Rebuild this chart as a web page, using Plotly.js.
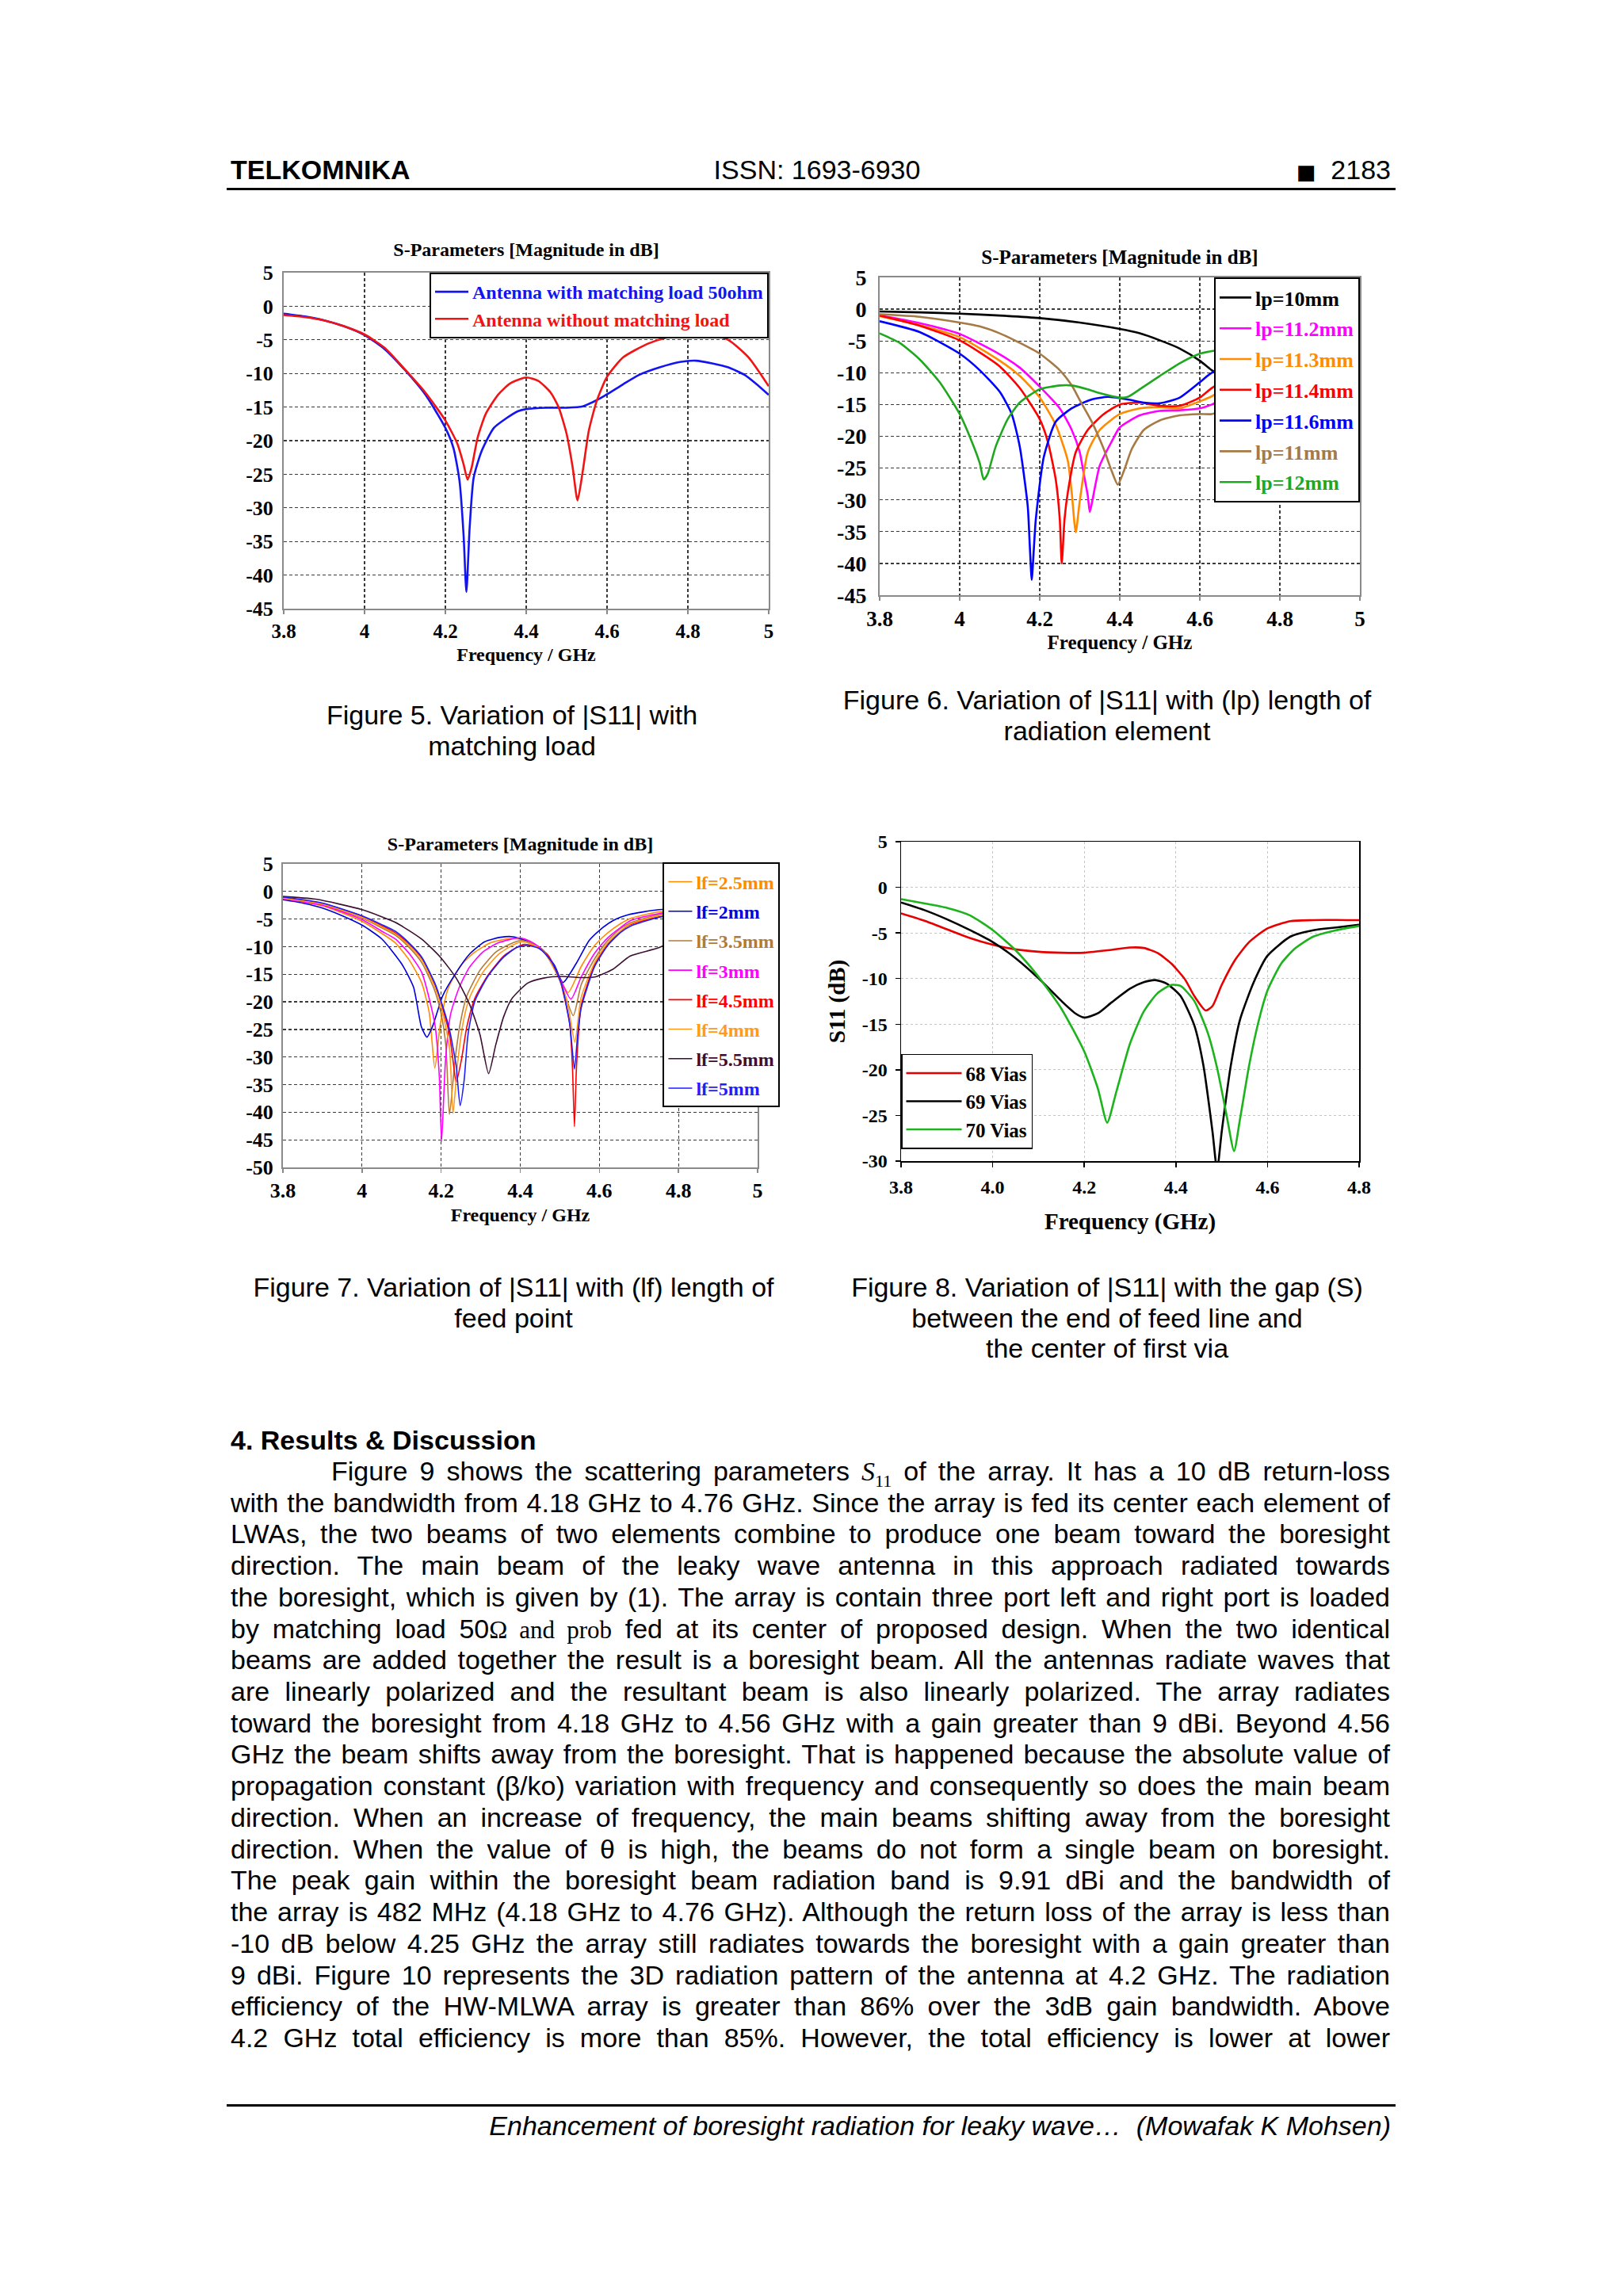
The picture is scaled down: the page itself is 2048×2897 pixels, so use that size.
<!DOCTYPE html>
<html><head><meta charset="utf-8">
<script src="https://cdn.plot.ly/plotly-3.0.1.min.js"></script>
<style>
html,body{margin:0;padding:0;background:#fff;}
#page{position:relative;width:2048px;height:2897px;overflow:hidden;background:#fff;font-family:'Liberation Sans',Arial,sans-serif;color:#000;}
.abs{position:absolute;}
.t34{font-size:34px;line-height:34px;white-space:nowrap;}
.cap{position:absolute;font-size:34px;line-height:38.5px;text-align:center;white-space:nowrap;transform:translateX(-50%);}
.para{position:absolute;left:291px;width:1463px;top:1837px;font-size:34px;}
.para div{height:39.72px;line-height:39.72px;text-align:justify;text-align-last:justify;}
.chart{position:absolute;}
.m{font-family:'Liberation Serif','Times New Roman',serif;}
</style>
</head><body>
<div id="page">
  <div class="abs t34" style="left:291px;top:197px;font-weight:bold;">TELKOMNIKA</div>
  <div class="abs t34" style="left:1031px;top:197px;transform:translateX(-50%);">ISSN: 1693-6930</div>
  <div class="abs t34" style="left:0;width:1755px;top:197px;text-align:right;"><span style="font-family:'DejaVu Sans';font-size:26px;">■</span>&nbsp; 2183</div>
  <div class="abs" style="left:286px;top:237px;width:1475px;height:3px;background:#000;"></div>

  <div id="fig5" class="chart" style="left:280px;top:290px;width:720px;height:560px;"></div>
  <div id="fig6" class="chart" style="left:1040px;top:295px;width:720px;height:540px;"></div>
  <div id="fig7" class="chart" style="left:290px;top:1040px;width:720px;height:530px;"></div>
  <div id="fig8" class="chart" style="left:1030px;top:1040px;width:720px;height:530px;"></div>

  <div class="cap" style="left:646px;top:883px;">Figure 5. Variation of |S11| with<br>matching load</div>
  <div class="cap" style="left:1397px;top:864px;">Figure 6. Variation of |S11| with (lp) length of<br>radiation element</div>
  <div class="cap" style="left:648px;top:1605px;">Figure 7. Variation of |S11| with (lf) length of<br>feed point</div>
  <div class="cap" style="left:1397px;top:1605px;">Figure 8. Variation of |S11| with the gap (S)<br>between the end of feed line and<br>the center of first via</div>

  <div class="abs t34" style="left:291px;top:1800px;font-weight:bold;">4. Results &amp; Discussion</div>
  <div class="para">
    <div style="text-indent:127px;">Figure 9 shows the scattering parameters <i class="m">S</i><sub class="m" style="font-size:22px;line-height:0;">11</sub> of the array. It has a 10 dB return-loss</div>
    <div>with the bandwidth from 4.18 GHz to 4.76 GHz. Since the array is fed its center each element of</div>
    <div>LWAs, the two beams of two elements combine to produce one beam toward the boresight</div>
    <div>direction. The main beam of the leaky wave antenna in this approach radiated towards</div>
    <div>the boresight, which is given by (1). The array is contain three port left and right port is loaded</div>
    <div>by matching load 50<span class="m" style="font-size:31px;">Ω and prob</span> fed at its center of proposed design. When the two identical</div>
    <div>beams are added together the result is a boresight beam. All the antennas radiate waves that</div>
    <div>are linearly polarized and the resultant beam is also linearly polarized. The array radiates</div>
    <div>toward the boresight from 4.18 GHz to 4.56 GHz with a gain greater than 9 dBi. Beyond 4.56</div>
    <div>GHz the beam shifts away from the boresight. That is happened because the absolute value of</div>
    <div>propagation constant (β/ko) variation with frequency and consequently so does the main beam</div>
    <div>direction. When an increase of frequency, the main beams shifting away from the boresight</div>
    <div>direction. When the value of θ is high, the beams do not form a single beam on boresight.</div>
    <div>The peak gain within the boresight beam radiation band is 9.91 dBi and the bandwidth of</div>
    <div>the array is 482 MHz (4.18 GHz to 4.76 GHz). Although the return loss of the array is less than</div>
    <div>-10 dB below 4.25 GHz the array still radiates towards the boresight with a gain greater than</div>
    <div>9 dBi. Figure 10 represents the 3D radiation pattern of the antenna at 4.2 GHz. The radiation</div>
    <div>efficiency of the HW-MLWA array is greater than 86% over the 3dB gain bandwidth. Above</div>
    <div>4.2 GHz total efficiency is more than 85%. However, the total efficiency is lower at lower</div>
  </div>

  <div class="abs" style="left:286px;top:2655px;width:1475px;height:3px;background:#000;"></div>
  <div class="abs t34" style="left:0;width:1755px;top:2665px;text-align:right;font-style:italic;">Enhancement of boresight radiation for leaky wave…&nbsp; (Mowafak K Mohsen)</div>
</div>

<script>
// ---------- Tick labels ----------
const ticksFreqA = [3.8, 4, 4.2, 4.4, 4.6, 4.8, 5];
const ticksFreqALabels = ['3.8', '4', '4.2', '4.4', '4.6', '4.8', '5'];
const ticksDb45 = [5, 0, -5, -10, -15, -20, -25, -30, -35, -40, -45];
const ticksDb45Labels = ['5', '0', '-5', '-10', '-15', '-20', '-25', '-30', '-35', '-40', '-45'];
const ticksDb50 = [5, 0, -5, -10, -15, -20, -25, -30, -35, -40, -45, -50];
const ticksDb50Labels = ['5', '0', '-5', '-10', '-15', '-20', '-25', '-30', '-35', '-40', '-45', '-50'];
const ticksFreqB = [3.8, 4.0, 4.2, 4.4, 4.6, 4.8];
const ticksFreqBLabels = ['3.8', '4.0', '4.2', '4.4', '4.6', '4.8'];
const ticksDb30 = [5, 0, -5, -10, -15, -20, -25, -30];
const ticksDb30Labels = ['5', '0', '-5', '-10', '-15', '-20', '-25', '-30'];

// ---------- Figure 5 ----------
const f5Names = ['Antenna with matching load 50ohm', 'Antenna without matching load'];
const f5FreqWith = [3.8,3.85,3.9,3.95,4.0,4.05,4.1,4.15,4.2,4.22,4.235,4.245,4.252,4.26,4.27,4.29,4.32,4.35,4.38,4.4,4.45,4.5,4.54,4.57,4.6,4.64,4.68,4.73,4.78,4.82,4.86,4.9,4.94,4.97,5.0];
const f5S11With = [-1.1,-1.5,-2.1,-3.0,-4.3,-6.4,-9.5,-13.1,-18.1,-21.1,-26,-34,-42.5,-33,-25.5,-21.5,-18.1,-16.7,-15.6,-15.3,-15.1,-15.1,-14.9,-14.1,-13.1,-11.6,-10.2,-9.1,-8.3,-8.1,-8.5,-9.1,-10.2,-11.6,-13.2];
const f5FreqWithout = [3.8,3.85,3.9,3.95,4.0,4.05,4.1,4.15,4.2,4.23,4.245,4.255,4.265,4.28,4.3,4.33,4.36,4.4,4.43,4.46,4.48,4.5,4.515,4.527,4.54,4.555,4.575,4.6,4.64,4.7,4.75,4.8,4.85,4.9,4.95,5.0];
const f5S11Without = [-1.3,-1.6,-2.1,-3.0,-4.2,-6.2,-9.4,-12.8,-17.0,-20.5,-23.5,-25.8,-24,-19.5,-16,-13.2,-11.5,-10.6,-11.1,-12.8,-15,-19,-24,-28.9,-24.5,-18.5,-14,-10.5,-7.6,-5.6,-4.6,-4.1,-4.1,-5.0,-7.6,-11.9];
const f5Colors = ['#1414f0', '#f01414'];

// ---------- Figure 6 ----------
const f6Names = ['lp=10mm', 'lp=11.2mm', 'lp=11.3mm', 'lp=11.4mm', 'lp=11.6mm', 'lp=11mm', 'lp=12mm'];
const f6Colors = ['#000000', '#ff00ff', '#ff8c00', '#ff0000', '#0000ff', '#a67a45', '#1fa81f'];
const f6FreqLp10 = [3.8,3.9,4.0,4.1,4.2,4.3,4.4,4.45,4.5,4.55,4.6,4.63,4.7,4.8,4.9,5.0];
const f6S11Lp10 = [-0.36,-0.5,-0.7,-1.0,-1.4,-2.1,-3.1,-3.8,-4.9,-6.2,-8.1,-9.6,-12,-14,-13,-12];
const f6FreqLp112 = [3.8,3.9,4.0,4.1,4.15,4.2,4.25,4.28,4.3,4.31,4.32,4.325,4.33,4.35,4.38,4.4,4.45,4.5,4.55,4.6,4.63,4.7,4.8,4.9,5.0];
const f6S11Lp112 = [-1.0,-2.2,-3.9,-7.1,-9.2,-12.2,-15.6,-19,-22.5,-25.9,-29.3,-31.9,-30.6,-24.6,-20.8,-18.6,-16.7,-16,-15.9,-15.6,-15,-13,-11,-10,-11];
const f6FreqLp113 = [3.8,3.9,4.0,4.1,4.15,4.2,4.24,4.27,4.28,4.29,4.3,4.32,4.35,4.4,4.45,4.5,4.55,4.6,4.63,4.7,4.8,4.9,5.0];
const f6S11Lp113 = [-1.1,-2.5,-4.4,-8.1,-10.5,-13.9,-18.2,-23.8,-28.9,-35.1,-30.2,-22.5,-19,-16.5,-15.6,-15.4,-15.6,-14.5,-13.7,-11,-10,-11,-13];
const f6FreqLp114 = [3.8,3.9,4.0,4.05,4.1,4.15,4.2,4.22,4.24,4.25,4.255,4.262,4.27,4.29,4.32,4.36,4.4,4.45,4.5,4.55,4.6,4.63,4.7,4.8,4.9,5.0];
const f6S11Lp114 = [-1.0,-2.6,-4.9,-6.8,-9.0,-12.4,-17.3,-20.8,-26.8,-33,-40,-33,-28.9,-22.5,-19,-16.5,-15,-14.7,-15.2,-15.2,-13.9,-12.4,-10,-9,-10,-12.5];
const f6FreqLp116 = [3.8,3.9,4.0,4.05,4.1,4.13,4.15,4.17,4.175,4.18,4.185,4.19,4.21,4.24,4.28,4.33,4.37,4.42,4.46,4.5,4.55,4.6,4.63,4.7,4.8,4.9,5.0];
const f6S11Lp116 = [-1.9,-3.6,-7.0,-9.6,-13,-16.5,-21.6,-31,-37,-42.6,-38,-33.2,-23.3,-17.7,-15.6,-14.2,-13.8,-14.2,-14.7,-14.8,-13.9,-11.5,-10,-8.5,-8,-10,-15];
const f6FreqLp11 = [3.8,3.9,4.0,4.05,4.1,4.15,4.2,4.25,4.28,4.3,4.33,4.36,4.38,4.395,4.41,4.43,4.46,4.5,4.55,4.6,4.63,4.7,4.8,4.9,5.0];
const f6S11Lp11 = [-0.8,-1.2,-2.1,-2.7,-3.8,-5.3,-7,-9.6,-12,-14.3,-17.7,-22,-25.5,-27.6,-25.5,-22,-19,-17.5,-16.7,-16.5,-16.5,-15,-13,-12,-13];
const f6FreqLp12 = [3.8,3.85,3.9,3.95,4.0,4.03,4.05,4.06,4.07,4.09,4.12,4.15,4.2,4.25,4.28,4.32,4.35,4.4,4.42,4.45,4.5,4.55,4.6,4.63,4.7,4.8,4.9,5.0];
const f6S11Lp12 = [-3.8,-5.3,-7.9,-11.5,-16.5,-20.8,-24.2,-26.8,-25.9,-21.6,-17.3,-14.7,-12.6,-12,-12,-12.6,-13.2,-13.9,-13.8,-12.6,-10.5,-8.5,-7,-6.6,-6,-6.5,-8,-9.8];

// ---------- Figure 7 ----------
const f7Names = ['lf=2.5mm', 'lf=2mm', 'lf=3.5mm', 'lf=3mm', 'lf=4.5mm', 'lf=4mm', 'lf=5.5mm', 'lf=5mm'];
const f7Colors = ['#ff8c00', '#0000dd', '#b07a3a', '#ff00ff', '#ff0000', '#ff9a1a', '#3c0f32', '#1e1eff'];
const f7FreqLf25 = [3.8,3.9,4.0,4.05,4.084,4.12,4.151,4.17,4.184,4.198,4.218,4.251,4.285,4.325,4.365,4.392,4.43,4.46,4.49,4.521,4.554,4.588,4.621,4.654,4.678,4.75,4.85,5.0];
const f7S11Lf25 = [-1.3,-2.6,-5.4,-7.6,-9.3,-12.5,-16.6,-22,-32,-24,-17.5,-13.3,-11,-9.3,-8.6,-8.55,-9.3,-10.9,-14.2,-18.3,-13.6,-9.8,-7.5,-5.8,-4.9,-3.7,-3.2,-3.4];
const f7FreqLf2 = [3.8,3.85,3.9,3.95,4.0,4.05,4.1,4.13,4.15,4.164,4.178,4.204,4.238,4.271,4.31,4.35,4.382,4.42,4.46,4.486,4.508,4.541,4.574,4.601,4.634,4.674,4.75,4.85,5.0];
const f7S11Lf2 = [-1.5,-2.1,-3.0,-4.4,-6.1,-8.6,-13.1,-17.3,-24.5,-26.4,-24.5,-18.9,-14.7,-11.4,-9.1,-8.3,-8.2,-9.1,-11,-13.3,-16.5,-13.1,-8.9,-7.0,-5.3,-4.2,-3.3,-3.0,-3.2];
const f7FreqLf35 = [3.8,3.9,4.0,4.05,4.084,4.12,4.151,4.184,4.2,4.212,4.221,4.235,4.248,4.265,4.298,4.338,4.372,4.402,4.43,4.46,4.5,4.534,4.554,4.588,4.621,4.654,4.678,4.75,4.85,5.0];
const f7S11Lf35 = [-1.2,-2.4,-4.8,-6.6,-7.9,-10.2,-12.9,-18,-22.2,-28,-40.4,-30.6,-24,-18.9,-14.3,-11,-9.6,-8.9,-9.4,-10.8,-16,-22.5,-16.9,-12.2,-8.9,-6.7,-5.7,-4.2,-3.6,-3.8];
const f7FreqLf3 = [3.8,3.9,4.0,4.05,4.084,4.12,4.151,4.184,4.195,4.201,4.211,4.224,4.245,4.271,4.305,4.345,4.399,4.43,4.46,4.495,4.528,4.554,4.588,4.621,4.654,4.678,4.75,4.85,5.0];
const f7S11Lf3 = [-1.3,-2.5,-5.1,-7.2,-8.6,-11.3,-14.7,-24,-33,-45.3,-30.6,-22.2,-17.5,-13.8,-11,-9.3,-8.4,-9.2,-10.8,-15,-19.5,-15.5,-11.2,-8.4,-6.5,-5.3,-4.0,-3.4,-3.6];
const f7FreqLf45 = [3.8,3.9,4.0,4.05,4.084,4.12,4.151,4.184,4.2,4.221,4.23,4.238,4.251,4.265,4.285,4.318,4.358,4.392,4.41,4.44,4.47,4.5,4.525,4.532,4.537,4.542,4.554,4.588,4.621,4.654,4.678,4.75,4.85,5.0];
const f7S11Lf45 = [-1.1,-2.2,-4.5,-6.2,-7.5,-9.6,-12.1,-17,-20.3,-25.9,-30.6,-34.6,-30.6,-24.5,-19.4,-15.2,-11.7,-10.1,-9.6,-10,-11.5,-16,-24,-32,-42.6,-32,-20.7,-13.3,-9.6,-7.2,-6.0,-4.6,-3.8,-4.0];
const f7FreqLf4 = [3.8,3.9,4.0,4.05,4.084,4.12,4.151,4.184,4.2,4.221,4.23,4.241,4.255,4.271,4.305,4.345,4.379,4.405,4.43,4.46,4.5,4.52,4.538,4.554,4.588,4.621,4.654,4.678,4.75,4.85,5.0];
const f7S11Lf4 = [-1.2,-2.3,-4.7,-6.4,-7.7,-9.9,-12.4,-17.3,-20.8,-28.3,-40.2,-31.5,-24,-19.4,-14.7,-11.4,-9.8,-9.1,-9.6,-10.9,-16.2,-20.5,-27.3,-19.2,-12.9,-9.3,-7.1,-5.9,-4.4,-3.7,-3.9];
const f7FreqLf55 = [3.8,3.883,4.0,4.084,4.15,4.198,4.238,4.271,4.298,4.32,4.338,4.358,4.379,4.419,4.459,4.506,4.55,4.588,4.634,4.678,4.75,4.85,5.0];
const f7S11Lf55 = [-0.9,-1.4,-3.3,-5.6,-8.6,-11.9,-15.7,-20.3,-25.9,-33,-27.8,-22.7,-19.4,-16.6,-15.7,-15.4,-15.6,-15.5,-14.1,-11.7,-10.2,-7,-4];
const f7FreqLf5 = [3.8,3.9,4.0,4.05,4.084,4.12,4.151,4.184,4.2,4.221,4.23,4.238,4.248,4.258,4.268,4.285,4.318,4.358,4.392,4.419,4.45,4.48,4.505,4.525,4.537,4.545,4.554,4.588,4.621,4.654,4.678,4.75,4.85,5.0];
const f7S11Lf5 = [-1.0,-2.1,-4.4,-6.0,-7.2,-9.4,-11.9,-16.6,-19.9,-25,-28.3,-31.5,-38.8,-34.3,-25.9,-19.9,-15.4,-11.9,-10.1,-9.8,-10.4,-12.8,-17,-24,-32.2,-26,-21.1,-13.6,-9.8,-7.4,-6.3,-4.7,-3.9,-4.1];

// ---------- Figure 8 ----------
const f8Names = ['68 Vias', '69 Vias', '70 Vias'];
const f8Colors = ['#e60000', '#000000', '#1db31d'];
const f8Freq68 = [3.8,3.85,3.9,3.95,4.0,4.05,4.1,4.15,4.2,4.25,4.3,4.33,4.36,4.39,4.42,4.44,4.465,4.48,4.5,4.53,4.56,4.6,4.65,4.7,4.75,4.8];
const f8S1168 = [-2.86,-3.65,-4.6,-5.56,-6.3,-6.8,-7.06,-7.17,-7.17,-6.9,-6.6,-6.65,-7.2,-8.35,-10.1,-11.9,-13.5,-13.0,-10.7,-7.9,-6.0,-4.5,-3.7,-3.6,-3.57,-3.6];
const f8Freq69 = [3.8,3.85,3.9,3.95,4.0,4.05,4.1,4.15,4.18,4.2,4.23,4.26,4.3,4.33,4.355,4.38,4.41,4.44,4.46,4.48,4.49,4.5,4.52,4.54,4.57,4.6,4.65,4.7,4.75,4.8];
const f8S1169 = [-1.66,-2.48,-3.5,-4.68,-6.0,-7.76,-9.96,-12.45,-13.8,-14.27,-13.8,-12.6,-11.1,-10.4,-10.17,-10.55,-11.9,-15.1,-19.5,-26.8,-31,-26.8,-19.5,-14.5,-10.4,-7.5,-5.4,-4.7,-4.4,-4.1];
const f8Freq70 = [3.8,3.85,3.9,3.95,4.0,4.05,4.1,4.15,4.2,4.23,4.25,4.27,4.3,4.33,4.36,4.39,4.41,4.44,4.47,4.49,4.51,4.527,4.54,4.56,4.58,4.6,4.63,4.66,4.7,4.75,4.8];
const f8S1170 = [-1.3,-1.75,-2.25,-3.07,-4.68,-6.9,-9.8,-13.3,-18,-22.1,-25.8,-22.4,-17.1,-13.6,-11.6,-10.7,-10.8,-12.45,-16,-19.8,-24.8,-28.9,-25.4,-19.5,-14.8,-11.3,-8.35,-6.7,-5.4,-4.7,-4.24];

// ---------- helpers ----------
const SERIF = "'Liberation Serif','Times New Roman',serif";
function bf(size, color) { return {family: SERIF, size: size, color: color || '#000', weight: 'bold'}; }
function colored(label, color) { return '<span style="color:' + color + '">' + label + '</span>'; }
function trace(x, y, name, color, width, idx, coloredText) {
  return {
    x: x, y: y, type: 'scatter', mode: 'lines',
    name: coloredText ? colored(name, color) : name,
    legendgroup: 'g' + idx,
    line: {color: color, width: width, shape: 'spline', smoothing: 0.6}
  };
}
function axisA(o) {
  return Object.assign({
    showgrid: true, gridcolor: '#3a3a3a', griddash: '4px,3px', gridwidth: 1.3,
    showline: true, linecolor: '#8a8a8a', linewidth: 2, mirror: true,
    ticks: 'outside', ticklen: 5, tickcolor: '#8a8a8a', tickwidth: 1.5,
    zeroline: false, automargin: false, fixedrange: true
  }, o);
}
const cfg = {staticPlot: true, displayModeBar: false, responsive: false};

// ---------- Figure 5 ----------
Plotly.newPlot('fig5', [
  trace(f5FreqWith, f5S11With, f5Names[0], f5Colors[0], 2.6, 0, true),
  trace(f5FreqWithout, f5S11Without, f5Names[1], f5Colors[1], 2.6, 1, true)
], {
  width: 720, height: 560,
  margin: {l: 78, r: 30, t: 54, b: 82, pad: 0},
  paper_bgcolor: 'rgba(0,0,0,0)', plot_bgcolor: '#fff',
  title: {text: 'S-Parameters [Magnitude in dB]', font: bf(24), x: 0.5, xref: 'paper', xanchor: 'center', y: 1 - 25 / 560, yref: 'container', yanchor: 'middle'},
  xaxis: axisA({range: [3.8, 5], tickvals: ticksFreqA, ticktext: ticksFreqALabels, tickfont: bf(25), title: {text: 'Frequency / GHz', font: bf(24), standoff: 8}}),
  yaxis: axisA({range: [-45, 5], tickvals: ticksDb45, ticktext: ticksDb45Labels, tickfont: bf(26), ticks: '', ticklabelstandoff: 6}),
  showlegend: true,
  legend: {x: 1, xanchor: 'right', y: 1, yanchor: 'top', bgcolor: '#fff', bordercolor: '#000', borderwidth: 2, font: bf(24), traceorder: 'grouped', tracegroupgap: 0, itemwidth: 42, maxheight: 400}
}, cfg);

// ---------- Figure 6 ----------
const f6Series = [[f6FreqLp10, f6S11Lp10], [f6FreqLp112, f6S11Lp112], [f6FreqLp113, f6S11Lp113], [f6FreqLp114, f6S11Lp114], [f6FreqLp116, f6S11Lp116], [f6FreqLp11, f6S11Lp11], [f6FreqLp12, f6S11Lp12]];
Plotly.newPlot('fig6', f6Series.map((s, i) => trace(s[0], s[1], f6Names[i], f6Colors[i], 2.6, i, true)), {
  width: 720, height: 540,
  margin: {l: 70, r: 44, t: 55, b: 84, pad: 0},
  paper_bgcolor: 'rgba(0,0,0,0)', plot_bgcolor: '#fff',
  title: {text: 'S-Parameters [Magnitude in dB]', font: bf(25), x: 0.5, xref: 'paper', xanchor: 'center', y: 1 - 29 / 540, yref: 'container', yanchor: 'middle'},
  xaxis: axisA({range: [3.8, 5], tickvals: ticksFreqA, ticktext: ticksFreqALabels, tickfont: bf(27), title: {text: 'Frequency / GHz', font: bf(25), standoff: 6}}),
  yaxis: axisA({range: [-45, 5], tickvals: ticksDb45, ticktext: ticksDb45Labels, tickfont: bf(28), ticks: '', ticklabelstandoff: 9}),
  showlegend: true,
  legend: {x: 1, xanchor: 'right', y: 1, yanchor: 'top', bgcolor: '#fff', bordercolor: '#000', borderwidth: 2, font: bf(26), traceorder: 'grouped', tracegroupgap: 2, itemwidth: 40, maxheight: 500}
}, cfg);

// ---------- Figure 7 ----------
const f7Series = [[f7FreqLf25, f7S11Lf25], [f7FreqLf2, f7S11Lf2], [f7FreqLf35, f7S11Lf35], [f7FreqLf3, f7S11Lf3], [f7FreqLf45, f7S11Lf45], [f7FreqLf4, f7S11Lf4], [f7FreqLf55, f7S11Lf55], [f7FreqLf5, f7S11Lf5]];
Plotly.newPlot('fig7', f7Series.map((s, i) => trace(s[0], s[1], f7Names[i], f7Colors[i], 1.6, i, true)), {
  width: 720, height: 530,
  margin: {l: 67, r: 53.5, t: 50.4, b: 97.3, pad: 0},
  paper_bgcolor: 'rgba(0,0,0,0)', plot_bgcolor: '#fff',
  title: {text: 'S-Parameters [Magnitude in dB]', font: bf(24), x: 0.5, xref: 'paper', xanchor: 'center', y: 1 - 25 / 530, yref: 'container', yanchor: 'middle'},
  xaxis: axisA({range: [3.8, 5], tickvals: ticksFreqA, ticktext: ticksFreqALabels, tickfont: bf(26), title: {text: 'Frequency / GHz', font: bf(24), standoff: 8}}),
  yaxis: axisA({range: [-50, 5], tickvals: ticksDb50, ticktext: ticksDb50Labels, tickfont: bf(26), ticks: '', ticklabelstandoff: 5}),
  showlegend: true,
  legend: {x: 1.0475, xanchor: 'right', y: 1.004, yanchor: 'top', bgcolor: '#fff', bordercolor: '#000', borderwidth: 2, font: bf(24), traceorder: 'grouped', tracegroupgap: 3, maxheight: 500}
}, cfg);

// ---------- Figure 8 ----------
const f8Series = [[f8Freq68, f8S1168], [f8Freq69, f8S1169], [f8Freq70, f8S1170]];
Plotly.newPlot('fig8', f8Series.map((s, i) => trace(s[0], s[1], f8Names[i], f8Colors[i], 2.6, i, false)), {
  width: 720, height: 530,
  margin: {l: 107, r: 35, t: 22, b: 105, pad: 0},
  paper_bgcolor: 'rgba(0,0,0,0)', plot_bgcolor: '#fff',
  xaxis: {range: [3.8, 4.8], tickvals: ticksFreqB, ticktext: ticksFreqBLabels, tickfont: bf(24),
    showgrid: true, gridcolor: '#c4c4c4', griddash: 'dot', gridwidth: 1.2,
    showline: true, linecolor: '#000', linewidth: 1.5, mirror: true,
    ticks: 'outside', ticklen: 6, tickcolor: '#000', tickwidth: 1.5, ticklabelstandoff: 5,
    zeroline: false, automargin: false,
    title: {text: 'Frequency (GHz)', font: bf(29), standoff: 20}},
  yaxis: {range: [-30, 5], tickvals: ticksDb30, ticktext: ticksDb30Labels, tickfont: bf(24),
    showgrid: true, gridcolor: '#c4c4c4', griddash: 'dot', gridwidth: 1.2,
    showline: true, linecolor: '#000', linewidth: 1.5, mirror: true,
    ticks: 'outside', ticklen: 6, tickcolor: '#000', tickwidth: 1.5, ticklabelstandoff: 5,
    zeroline: false, automargin: false,
    title: {text: 'S11 (dB)', font: bf(29), standoff: 12}},
  showlegend: true,
  legend: {x: 0, xanchor: 'left', y: 0.038, yanchor: 'bottom', bgcolor: '#fff', bordercolor: '#000', borderwidth: 1.5, font: bf(25), traceorder: 'grouped', tracegroupgap: 0, itemwidth: 70, maxheight: 300}
}, cfg);
</script>
</body></html>
